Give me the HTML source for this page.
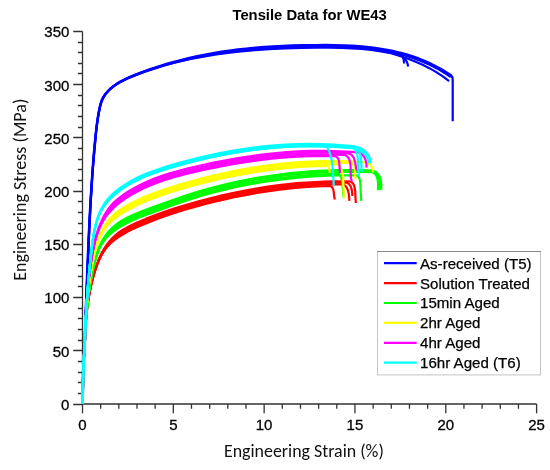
<!DOCTYPE html>
<html><head><meta charset="utf-8"><style>
html,body{margin:0;padding:0;background:#fff;}
svg{display:block;}
.c path{fill:none;stroke-linejoin:round;stroke-linecap:butt;}
.tk{font-family:"Liberation Sans",Arial,sans-serif;font-size:15px;fill:#000;stroke:#000;stroke-width:0.3px;}
.lg{font-family:"Liberation Sans",Arial,sans-serif;font-size:15.1px;fill:#000;stroke:#000;stroke-width:0.25px;}
.ti{font-family:"Liberation Sans",Arial,sans-serif;font-size:14.8px;font-weight:bold;fill:#000;}
.at{font-family:Carlito,"Liberation Sans",sans-serif;font-size:17.7px;fill:#111;}
</style></head><body>
<svg width="550" height="470" viewBox="0 0 550 470">
<rect width="550" height="470" fill="#fff"/>
<text x="309.6" y="19.6" text-anchor="middle" class="ti">Tensile Data for WE43</text>
<path d="M82.5,31.4V404H536.6M73.2,404.50H82.5M77.9,393.50H82.5M77.9,382.50H82.5M77.9,372.50H82.5M77.9,361.50H82.5M73.2,350.50H82.5M77.9,340.50H82.5M77.9,329.50H82.5M77.9,318.50H82.5M77.9,308.50H82.5M73.2,297.50H82.5M77.9,286.50H82.5M77.9,276.50H82.5M77.9,265.50H82.5M77.9,254.50H82.5M73.2,244.50H82.5M77.9,233.50H82.5M77.9,223.50H82.5M77.9,212.50H82.5M77.9,201.50H82.5M73.2,191.50H82.5M77.9,180.50H82.5M77.9,169.50H82.5M77.9,159.50H82.5M77.9,148.50H82.5M73.2,137.50H82.5M77.9,127.50H82.5M77.9,116.50H82.5M77.9,105.50H82.5M77.9,95.50H82.5M73.2,84.50H82.5M77.9,73.50H82.5M77.9,63.50H82.5M77.9,52.50H82.5M77.9,42.50H82.5M73.2,31.50H82.5M82.50,404V413.2M100.66,404V408.7M118.83,404V408.7M136.99,404V408.7M155.16,404V408.7M173.32,404V413.2M191.48,404V408.7M209.65,404V408.7M227.81,404V408.7M245.98,404V408.7M264.14,404V413.2M282.30,404V408.7M300.47,404V408.7M318.63,404V408.7M336.80,404V408.7M354.96,404V413.2M373.12,404V408.7M391.29,404V408.7M409.45,404V408.7M427.62,404V408.7M445.78,404V413.2M463.94,404V408.7M482.11,404V408.7M500.27,404V408.7M518.44,404V408.7M536.60,404V413.2" stroke="#333333" stroke-width="1.3" fill="none"/>
<g class="c">
<path d="M82.4,404.0 83.0,372.0 83.9,353.0 84.8,338.0 85.0,329.0 86.7,282.6 87.9,252.1 89.1,226.1 90.4,201.1 91.8,179.2 93.3,158.2 95.1,138.8 96.4,126.8 97.8,116.9 98.6,112.0 99.5,107.6 100.2,104.7 101.1,101.8 102.0,99.4 102.9,97.6 104.0,95.9 105.4,93.8 107.0,91.9 109.1,89.7 110.9,88.0 113.3,86.1 116.6,83.8 120.4,81.5 124.4,79.4 129.4,77.1 135.4,74.6 143.4,71.5 150.9,68.8 159.0,66.2 166.2,63.9 173.9,61.7 181.6,59.7 189.4,57.8 197.2,56.1 205.1,54.5 213.0,53.1 221.4,51.7 229.3,50.5 237.8,49.4 246.2,48.5 255.2,47.6 264.2,46.9 273.2,46.3 282.7,45.8 292.2,45.4 303.2,45.1 314.7,45.0 325.3,44.9 334.8,45.0 343.8,45.3 351.8,45.6 359.3,46.1 366.8,46.8 373.3,47.6 379.8,48.5 385.7,49.5 391.7,50.6 397.6,52.0 402.9,53.3 408.2,54.9 413.5,56.6 418.7,58.4 423.9,60.5 429.0,62.7 433.5,64.9 438.4,67.5 442.8,70.0 447.1,72.7 451.3,75.5 452.5,77.6 452.7,80.0 452.7,121.3" stroke="#0000ff" stroke-width="2.2"/>
<path d="M82.6,404.0 83.2,372.0 84.1,353.0 85.1,338.0 85.2,329.5 86.7,288.6 89.0,232.6 90.2,208.6 91.5,187.2 92.9,167.2 94.4,148.8 95.9,133.3 97.2,122.4 98.8,112.5 99.7,108.1 100.5,104.7 101.2,102.3 102.1,100.0 102.9,98.2 103.9,96.5 105.3,94.4 106.9,92.4 108.5,90.6 110.7,88.5 113.0,86.6 115.5,84.9 118.0,83.2 121.0,81.5 124.1,79.9 127.7,78.2 131.9,76.4 136.5,74.6 148.2,70.3 160.6,66.2 173.1,62.7 186.2,59.4 197.9,56.9 209.7,54.7 222.1,52.8 234.9,51.1 247.9,49.7 261.8,48.6 275.8,47.7 290.8,47.1 306.3,46.7 322.3,46.5 335.2,46.6 346.7,47.0 357.7,47.6 368.2,48.6 377.6,49.8 386.9,51.3 396.2,53.3 404.9,55.5 413.5,58.2 421.4,61.2 429.2,64.6 433.2,66.6 436.8,68.4 440.7,70.6 444.1,72.7 450.8,77.1" stroke="#0000ff" stroke-width="2.2"/>
<path d="M82.8,404.0 83.4,372.0 84.3,353.0 85.2,338.0 85.4,329.5 86.9,288.6 89.2,232.6 90.4,208.6 91.7,187.2 93.0,167.2 94.6,148.8 96.0,133.4 97.3,122.4 98.9,112.6 99.8,108.2 100.6,104.8 101.4,102.4 102.2,100.1 103.1,98.3 104.0,96.5 105.4,94.5 107.0,92.6 108.7,90.7 110.8,88.7 113.1,86.8 116.0,84.8 118.9,82.9 122.0,81.2 125.5,79.4 129.2,77.8 133.8,75.9 138.9,73.9 145.0,71.7 151.2,69.6 163.6,65.8 169.8,64.0 176.6,62.2 189.7,59.2 202.0,56.8 214.8,54.6 227.6,52.8 241.0,51.3 254.9,50.1 269.4,49.1 284.8,48.4 301.8,47.9 316.8,47.6 329.7,47.6 341.2,47.9 351.7,48.3 361.6,49.0 371.0,50.0 379.4,51.1 389.2,52.8 398.2,55.4 406.8,58.2 415.0,61.4 422.6,64.8 429.8,68.4 433.3,70.4 436.7,72.4 440.1,74.6 443.2,76.7 449.1,81.2" stroke="#0000ff" stroke-width="2.2"/>
<path d="M82.7,404.0 83.3,372.0 84.2,353.0 85.1,338.0 85.2,329.5 86.5,295.1 88.8,239.6 89.9,216.1 91.0,195.6 92.2,176.7 93.6,158.7 95.2,140.3 96.6,127.4 98.0,117.0 99.7,108.1 100.4,105.2 101.1,102.8 101.9,100.5 102.7,98.7 103.7,96.9 105.0,94.8 106.6,92.8 108.2,91.0 110.0,89.2 111.9,87.6 113.9,86.1 115.9,84.6 120.6,81.8 126.4,78.8 133.7,75.7 144.0,71.8 153.9,68.4 164.0,65.3 173.6,62.6 183.8,60.1 194.0,57.8 204.3,55.8 214.7,54.0 225.5,52.4 236.9,51.0 248.4,49.8 262.3,48.7 277.3,47.8 293.3,47.2 309.8,46.8 325.3,46.7 338.7,46.9 350.7,47.4 362.2,48.2 372.1,49.2 382.0,50.6 390.8,52.3 397.6,53.8 399.1,54.2 399.5,54.4 400.3,54.4 401.0,54.6 401.6,54.9 402.1,55.3 402.6,55.9 402.9,56.7 403.4,58.4 404.0,62.2 404.4,63.5" stroke="#0000ff" stroke-width="2.2"/>
<path d="M402.8,57.6 405.5,59.5 407.2,62.5 408.2,66.4" stroke="#0000ff" stroke-width="2.2"/>
<path d="M82.6,403.9 83.2,371.9 84.1,352.9 84.9,340.4 85.1,332.9 85.3,328.4 86.1,317.9 87.0,309.0 88.2,300.6 89.5,292.7 91.5,283.5 93.8,274.9 95.1,270.7 96.5,266.6 97.9,262.9 99.4,259.4 100.9,256.3 102.3,253.8 103.8,251.4 105.5,249.0 107.3,246.8 109.2,244.7 111.2,242.7 113.4,240.8 117.3,237.9 121.8,235.0 127.0,232.0 132.4,229.3 139.7,226.0 148.5,222.4 157.3,219.0 166.3,215.8 175.3,212.8 184.9,209.8 194.9,206.9 205.6,204.0 215.8,201.4 226.0,199.1 236.2,196.8 246.6,194.8 256.9,193.0 267.3,191.4 277.7,189.9 288.1,188.7 298.1,187.7 308.0,187.0 317.0,186.5 329.5,186.0 330.6,186.2 331.6,186.7 332.3,187.6 333.0,188.9 333.4,190.1 333.7,191.6 334.4,197.6 334.8,199.4" stroke="#ff0000" stroke-width="2.2"/>
<path d="M82.6,403.9 83.2,371.9 84.1,352.9 84.9,340.4 85.1,332.4 85.3,327.9 86.2,316.9 87.2,307.5 88.5,298.6 90.0,290.2 91.0,285.4 92.2,280.5 93.5,275.7 94.8,271.4 96.2,267.2 97.7,263.0 99.2,259.4 100.7,256.2 102.3,253.2 103.8,250.6 105.5,248.2 107.3,245.8 109.2,243.6 111.2,241.5 113.4,239.5 116.1,237.3 120.2,234.5 125.3,231.4 130.6,228.6 137.4,225.4 146.6,221.5 155.9,217.9 165.8,214.3 176.3,210.9 186.8,207.6 197.4,204.6 208.5,201.7 219.6,198.9 230.4,196.5 241.1,194.3 252.0,192.2 262.8,190.4 272.7,189.0 282.6,187.7 292.6,186.6 302.5,185.8 312.0,185.1 321.5,184.7 330.5,184.4 340.5,184.4 341.0,184.2 342.0,184.3 342.8,184.5 343.7,184.7 345.0,185.6 346.3,187.0 347.3,188.8 348.1,190.9 348.7,193.6 349.1,196.6 349.4,200.9" stroke="#ff0000" stroke-width="2.2"/>
<path d="M82.6,403.9 83.2,371.9 84.1,352.9 84.9,340.4 85.1,332.4 85.3,327.9 86.3,316.4 87.3,307.0 88.6,298.1 90.2,289.2 91.3,284.3 92.4,279.4 93.8,274.6 95.1,270.2 96.5,265.9 98.1,261.7 99.6,258.0 101.1,254.7 102.8,251.6 104.4,249.0 106.3,246.1 108.2,243.6 110.2,241.3 112.3,239.2 114.6,237.1 117.3,234.9 121.4,232.0 125.7,229.4 131.0,226.7 137.9,223.5 146.6,219.8 155.9,216.2 165.3,212.8 175.3,209.5 184.9,206.5 194.9,203.6 205.6,200.7 216.2,198.0 227.0,195.5 237.2,193.3 247.5,191.3 257.9,189.5 269.2,187.8 280.2,186.3 291.1,185.1 302.0,184.1 313.0,183.4 323.5,182.9 333.5,182.7 344.4,182.7 345.9,182.6 347.4,183.0 348.6,183.6 349.7,184.7 350.6,186.2 351.3,188.1 351.9,190.4 352.2,193.0 352.4,196.0" stroke="#ff0000" stroke-width="2.2"/>
<path d="M82.6,403.9 83.2,371.9 84.1,352.9 84.9,340.4 85.1,332.4 85.4,327.4 86.3,315.9 87.4,306.0 88.8,296.6 90.5,287.7 91.6,282.8 92.8,277.9 94.2,273.0 95.7,268.1 97.2,263.8 98.8,259.5 100.5,255.7 102.1,252.4 103.8,249.3 105.5,246.6 107.6,243.7 109.5,241.2 112.0,238.5 114.2,236.4 116.5,234.3 118.9,232.4 121.0,231.0 123.5,229.4 129.3,226.2 136.5,222.8 145.7,218.9 155.5,215.1 165.8,211.3 176.3,207.9 187.3,204.5 198.8,201.2 210.4,198.2 222.1,195.3 233.8,192.8 245.1,190.5 256.4,188.5 267.8,186.7 279.2,185.1 288.1,184.1 297.1,183.2 306.0,182.5 315.0,182.0 324.0,181.6 332.5,181.4 344.5,181.4 346.5,181.4 346.8,181.6 348.8,181.3 350.0,181.5 350.7,181.7 351.5,182.1 352.1,182.6 352.7,183.2 353.7,184.7 354.4,186.7 354.9,188.8 355.2,191.4 355.6,200.0 355.9,203.0" stroke="#ff0000" stroke-width="2.2"/>
<path d="M82.6,404.0 83.2,371.9 84.1,353.0 84.9,339.5 85.1,332.5 85.4,327.5 86.4,314.0 87.5,302.6 88.9,291.7 90.6,281.3 92.7,270.6 95.0,260.9 96.1,257.1 97.1,253.8 98.3,250.5 99.5,247.8 100.8,245.2 102.2,242.6 103.5,240.5 105.3,238.2 107.1,235.9 109.2,233.8 111.3,231.8 113.6,229.9 116.0,228.1 118.4,226.4 123.5,223.3 129.3,220.3 136.2,217.2 145.5,213.5 165.7,206.1 179.4,201.3 191.2,197.4 201.3,194.3 210.9,191.6 221.1,188.9 231.3,186.5 241.6,184.3 251.9,182.3 262.2,180.6 273.1,178.9 288.5,177.0 304.0,175.5 312.9,174.9 321.9,174.4 333.4,173.9 336.4,173.8 336.9,173.9 337.9,173.6 338.5,173.6 338.9,173.9 339.4,174.5 340.6,176.4 341.4,178.5 342.0,180.8 342.6,184.9 343.3,194.2 343.8,198.0" stroke="#00ff00" stroke-width="2.2"/>
<path d="M82.6,404.0 83.2,371.9 84.1,353.0 84.9,339.5 85.1,332.5 85.4,327.5 86.4,313.5 87.6,302.1 89.1,290.7 90.8,279.9 92.9,269.8 95.3,260.2 96.2,257.0 97.3,253.7 98.5,250.6 99.7,247.9 101.0,245.4 102.4,242.9 103.8,241.0 105.6,238.7 107.5,236.6 109.5,234.7 111.7,232.8 114.4,230.7 120.1,226.9 125.3,223.9 131.1,221.0 138.0,218.0 148.8,213.9 171.3,205.7 184.6,201.2 197.0,197.2 207.0,194.2 217.7,191.4 227.9,188.9 238.6,186.5 249.4,184.4 260.3,182.5 271.1,180.8 282.6,179.3 291.5,178.3 300.5,177.4 309.4,176.7 318.9,176.1 327.9,175.7 337.4,175.4 345.9,175.3 354.4,175.3 354.9,175.1 356.3,175.3 357.6,175.9 358.2,176.4 358.6,177.0 359.4,178.3 359.9,180.2 360.2,182.0 360.4,184.6 360.9,196.3 361.4,200.9" stroke="#00ff00" stroke-width="2.2"/>
<path d="M82.6,404.0 83.2,371.9 84.1,353.0 84.9,340.0 85.1,332.0 85.4,326.5 86.6,312.0 87.9,299.6 89.6,287.1 91.6,275.7 93.9,264.7 95.1,259.8 96.2,255.8 97.3,252.4 98.5,249.0 99.9,245.6 101.2,242.8 102.7,240.0 104.4,237.3 106.2,234.7 108.1,232.2 110.6,229.5 112.8,227.3 115.2,225.3 117.6,223.4 119.7,222.0 122.2,220.4 127.5,217.5 133.4,214.8 140.3,211.9 156.7,205.8 173.7,199.7 186.5,195.3 198.4,191.6 208.0,188.8 217.7,186.2 227.4,183.8 237.6,181.5 247.9,179.5 258.3,177.6 268.7,176.0 279.1,174.5 290.5,173.2 302.0,172.1 313.4,171.2 324.9,170.6 335.9,170.2 347.4,170.1 361.9,170.2 367.9,170.4 368.2,170.5 370.0,170.3 371.7,170.4 372.8,170.7 373.8,171.1 374.7,171.5 375.6,172.2 376.3,173.0 377.1,174.0 377.7,175.1 378.3,176.2 379.2,179.0 379.7,182.3 379.9,186.1 379.7,190.0" stroke="#00ff00" stroke-width="2.2"/>
<path d="M82.6,404.0 83.2,371.9 84.1,353.0 84.9,340.0 85.1,332.0 85.4,326.5 86.6,312.0 87.9,299.6 89.5,287.7 91.5,276.3 93.8,265.5 95.0,260.6 96.1,256.7 97.1,253.3 98.3,249.9 99.7,246.7 101.0,243.9 102.4,241.2 104.1,238.6 105.9,236.1 107.8,233.8 109.9,231.5 112.1,229.4 114.4,227.4 117.2,225.3 121.4,222.5 126.6,219.6 132.5,216.8 139.4,213.9 152.5,208.9 171.8,201.9 184.6,197.6 196.5,193.7 206.1,190.9 215.7,188.3 225.4,185.9 235.2,183.6 245.0,181.6 255.3,179.7 265.2,178.1 275.6,176.6 287.0,175.2 299.0,174.0 310.4,173.1 322.4,172.3 333.9,171.9 345.4,171.7 360.9,171.8 366.9,171.9 367.2,172.1 369.3,171.9 371.0,171.9 372.0,172.2 372.9,172.5 373.8,172.9 374.6,173.5 375.3,174.2 375.9,175.1 376.4,176.0 376.9,177.1 377.6,179.6 378.0,182.6 378.1,186.1 377.9,190.3" stroke="#00ff00" stroke-width="2.2"/>
<path d="M82.6,404.0 83.2,371.9 84.1,353.0 84.9,340.0 85.1,332.0 85.4,326.5 86.6,312.0 87.9,299.6 89.6,287.1 91.6,275.7 93.9,264.9 95.1,259.9 96.2,256.0 97.3,252.6 98.5,249.2 99.9,245.9 101.2,243.1 102.7,240.4 104.4,237.8 106.2,235.2 108.1,232.8 110.2,230.5 112.5,228.4 114.8,226.3 117.6,224.2 119.7,222.8 122.2,221.2 127.5,218.3 133.4,215.6 140.3,212.7 156.3,206.8 173.2,200.7 186.0,196.3 197.9,192.5 207.5,189.7 217.2,187.1 226.9,184.7 236.7,182.5 246.5,180.5 256.8,178.7 267.2,177.0 277.6,175.5 289.0,174.2 300.5,173.0 311.9,172.1 323.4,171.5 334.4,171.1 345.4,170.9 353.9,170.9 362.4,171.0 367.9,171.2 368.2,171.4 370.8,171.0 372.7,171.1 373.7,171.3 374.8,171.7 375.8,172.2 376.7,172.9 377.5,173.6 378.2,174.5 378.9,175.6 379.6,176.7 380.1,178.1 380.6,179.5 381.2,182.7 381.4,186.2 381.2,189.8" stroke="#00ff00" stroke-width="2.2"/>
<path d="M82.6,404.0 83.2,372.0 84.1,353.1 84.9,340.1 85.2,330.1 85.7,320.1 86.5,308.1 87.5,296.7 88.7,286.3 90.2,275.9 92.0,265.2 94.0,255.6 96.0,248.0 97.0,244.8 98.1,241.6 99.4,238.5 100.6,235.9 102.1,232.9 103.6,230.5 105.2,228.1 106.9,225.9 108.5,224.1 110.5,222.1 114.2,219.0 118.6,215.7 122.3,213.2 126.6,210.6 131.8,207.7 137.7,204.8 143.6,202.2 150.1,199.5 157.1,196.9 164.7,194.2 173.2,191.5 183.3,188.5 192.9,185.7 202.6,183.1 212.3,180.7 221.5,178.5 232.8,176.1 243.6,174.1 254.4,172.2 265.3,170.6 276.2,169.2 286.6,168.1 297.1,167.2 307.6,166.5 319.6,166.1 324.6,166.0 325.0,166.1 326.1,165.8 327.0,165.9 327.6,166.2 328.1,166.6 328.5,167.2 328.9,168.0 329.4,170.0 329.8,173.0" stroke="#ffff00" stroke-width="2.2"/>
<path d="M82.6,404.0 83.2,372.0 84.1,353.1 84.9,340.6 85.2,329.6 85.9,316.1 86.9,303.1 88.1,291.2 89.6,279.8 91.4,268.5 93.4,257.7 95.4,249.5 96.5,245.7 97.8,242.0 99.0,238.8 100.3,235.6 101.9,232.5 103.3,230.0 104.9,227.5 106.6,225.1 108.5,222.9 110.5,220.7 112.7,218.7 115.4,216.5 118.1,214.4 121.0,212.4 124.4,210.3 127.9,208.2 131.8,206.1 135.9,204.1 139.9,202.2 144.5,200.2 153.3,196.6 163.2,193.1 175.1,189.3 188.6,185.3 202.1,181.6 215.7,178.3 228.8,175.3 242.1,172.7 255.4,170.4 268.3,168.6 281.2,167.0 293.6,165.8 304.6,165.1 315.6,164.6 327.6,164.3 336.1,164.3 336.6,164.4 338.0,164.2 338.5,164.3 339.0,164.8 339.8,166.2 341.1,168.7 342.0,171.4 342.7,174.4 343.0,177.1 343.3,180.3 343.6,193.2 343.8,195.7 344.1,198.0" stroke="#ffff00" stroke-width="2.2"/>
<path d="M82.6,404.0 83.2,372.0 84.1,353.1 84.9,340.6 85.2,329.6 85.9,316.6 86.9,303.6 88.1,291.7 89.5,280.2 91.3,268.8 93.3,258.0 94.3,253.6 95.4,249.2 96.5,245.3 97.8,241.4 99.0,238.1 100.3,234.8 101.9,231.6 103.3,229.0 105.2,225.9 106.9,223.4 108.8,221.1 110.9,218.8 113.1,216.7 115.4,214.7 119.8,211.4 124.8,208.2 130.9,204.8 137.2,201.6 144.0,198.6 151.5,195.6 159.4,192.6 168.0,189.8 179.4,186.2 191.4,182.7 203.0,179.6 214.7,176.7 226.4,174.1 237.7,171.8 249.0,169.7 260.3,167.9 271.7,166.3 283.2,165.0 294.6,164.0 305.6,163.2 316.6,162.7 327.6,162.5 337.6,162.6 350.1,162.9 351.5,163.2 352.6,164.0 353.5,165.0 354.2,166.5 354.6,168.0 354.9,169.7 355.2,176.7 355.6,179.0" stroke="#ffff00" stroke-width="2.2"/>
<path d="M82.6,404.0 83.2,372.0 84.1,353.1 84.9,340.6 85.2,329.1 86.0,315.6 87.0,302.6 88.2,290.2 89.7,278.7 91.5,267.2 93.7,256.3 95.7,247.9 96.8,243.9 98.1,240.0 99.4,236.6 100.8,233.3 102.3,230.0 103.8,227.2 105.8,224.1 107.6,221.5 109.5,219.0 111.6,216.7 113.8,214.6 116.1,212.6 120.2,209.6 125.3,206.4 131.4,203.0 137.7,199.9 144.0,197.1 151.0,194.2 158.5,191.5 167.0,188.6 178.0,185.1 189.5,181.8 201.1,178.6 212.3,175.8 223.5,173.2 234.2,170.9 245.5,168.8 256.4,167.0 269.8,165.1 283.2,163.5 296.1,162.3 309.1,161.5 322.1,161.1 334.6,161.0 342.1,161.2 349.6,161.4 358.6,161.9 359.1,162.1 360.6,162.0 362.1,162.0 364.7,162.3 367.0,163.0 369.0,164.0 370.6,165.2 371.7,166.6 372.1,167.5 372.5,168.4 372.8,170.2 372.6,172.3" stroke="#ffff00" stroke-width="2.2"/>
<path d="M82.6,404.0 83.2,372.0 84.1,353.0 84.9,339.5 85.3,328.6 86.3,308.6 87.4,294.1 88.7,280.7 90.2,267.9 92.0,256.2 93.7,247.0 94.7,242.7 95.7,239.0 96.9,235.3 98.0,232.1 99.2,229.0 100.5,225.9 102.0,223.0 103.4,220.5 105.2,217.7 106.8,215.4 108.6,213.2 110.9,210.7 113.3,208.2 115.8,205.8 120.4,202.0 125.3,198.5 130.8,195.1 136.9,191.7 143.2,188.5 149.6,185.7 156.6,183.0 164.1,180.3 172.2,177.8 180.9,175.4 190.6,173.0 202.3,170.3 215.0,167.6 227.3,165.2 239.1,163.2 250.5,161.4 261.4,159.9 271.8,158.7 282.3,157.7 292.8,156.9 302.7,156.4 312.7,156.1 321.7,156.0 333.2,156.2 333.7,156.1 334.5,156.1 335.9,156.5 337.0,157.2 337.9,158.3 338.6,159.8 339.0,161.2 339.2,162.8 339.8,170.3 340.1,171.8 340.4,173.0" stroke="#ff00ff" stroke-width="2.2"/>
<path d="M82.6,404.0 83.2,372.0 84.1,353.0 84.9,339.5 85.3,328.1 86.4,307.6 87.5,293.1 88.8,279.2 90.5,265.9 92.3,254.1 94.2,244.8 95.2,240.5 96.3,236.7 97.5,232.9 98.8,229.2 100.1,226.0 101.6,222.9 103.2,219.9 104.9,216.9 106.8,214.1 108.6,211.8 110.5,209.5 112.9,207.0 115.4,204.6 118.1,202.3 120.4,200.4 123.3,198.4 129.1,194.5 135.6,190.8 142.7,187.2 150.1,183.9 157.5,181.0 165.6,178.2 174.6,175.5 185.8,172.5 198.4,169.6 214.1,166.2 228.8,163.4 242.1,161.1 255.0,159.2 267.9,157.5 280.3,156.3 288.8,155.6 296.7,155.1 304.7,154.7 312.7,154.5 320.7,154.4 328.2,154.5 335.7,154.7 343.2,155.0 343.9,154.8 345.0,155.0 345.9,155.5 346.7,156.0 347.5,156.7 348.1,157.4 349.2,159.2 349.9,161.3 350.3,163.4 350.6,166.0 350.7,174.4 350.9,177.2 351.3,179.5 351.9,181.5" stroke="#ff00ff" stroke-width="2.2"/>
<path d="M82.6,404.0 83.2,372.0 84.1,353.0 84.9,339.5 85.3,328.1 86.4,307.6 87.5,293.1 88.8,279.2 90.4,266.2 92.2,254.3 93.1,249.4 94.2,244.5 95.2,240.0 96.3,236.1 97.5,232.3 98.8,228.5 100.1,225.2 101.6,221.9 103.2,218.7 104.9,215.6 106.8,212.6 108.6,210.2 110.5,207.8 112.6,205.6 114.7,203.5 117.3,201.1 122.0,197.4 127.4,193.8 133.4,190.2 139.6,186.9 145.9,183.9 152.8,181.0 160.3,178.2 167.9,175.7 177.1,173.0 186.7,170.5 198.4,167.8 212.1,164.8 224.4,162.4 236.7,160.2 248.5,158.3 260.4,156.6 271.8,155.3 283.3,154.2 294.3,153.4 305.2,152.9 315.7,152.6 326.2,152.6 336.2,152.9 348.2,153.4 349.9,153.9 351.4,154.8 352.6,156.1 353.7,157.7 354.4,159.6 355.0,161.8 356.6,170.5" stroke="#ff00ff" stroke-width="2.2"/>
<path d="M82.6,404.0 83.2,372.0 84.1,353.0 84.9,339.5 85.3,328.1 86.4,307.6 87.5,293.1 88.8,279.1 90.5,265.6 92.3,253.6 93.2,248.6 94.3,243.6 95.3,239.1 96.4,235.1 97.6,231.2 99.0,227.2 100.3,223.8 101.8,220.4 103.4,217.1 105.2,213.9 107.1,210.8 108.9,208.2 110.9,205.7 112.9,203.4 115.1,201.3 117.7,199.0 122.5,195.3 127.8,191.7 133.9,188.1 140.0,184.9 146.8,181.7 153.8,178.8 161.3,176.1 168.9,173.6 178.0,171.0 188.2,168.3 200.4,165.5 213.6,162.7 225.8,160.3 238.2,158.1 250.0,156.3 261.4,154.7 273.8,153.3 286.3,152.2 298.2,151.4 310.2,150.9 321.7,150.8 333.2,151.0 346.7,151.6 354.7,152.2 355.1,152.3 356.3,152.2 357.5,152.3 358.5,152.5 359.5,152.8 360.4,153.2 361.3,153.7 362.8,155.1 364.2,157.0 365.3,159.3 366.1,162.0 366.5,164.8 366.4,167.6" stroke="#ff00ff" stroke-width="2.2"/>
<path d="M82.6,404.0 83.2,372.0 84.1,353.1 84.9,340.1 85.2,327.6 86.4,307.6 87.7,288.7 89.3,270.8 91.2,252.9 92.9,239.1 94.3,231.3 95.2,227.5 96.0,224.1 97.0,220.8 97.9,218.0 99.0,215.3 100.2,212.6 101.5,210.1 102.8,208.0 104.1,205.9 105.9,203.6 107.8,201.4 109.8,199.2 112.3,196.8 114.5,194.8 117.2,192.5 120.4,190.1 123.3,188.1 126.6,185.9 130.1,183.9 134.0,181.7 137.6,179.9 141.7,178.0 150.0,174.6 159.4,171.2 169.9,167.9 183.4,164.1 197.4,160.5 211.1,157.3 224.8,154.5 238.6,152.1 251.9,150.2 265.4,148.6 278.8,147.4 291.8,146.6 299.8,146.4 307.8,146.3 318.3,146.3 324.3,146.5 325.2,146.6 326.2,146.4 326.4,146.4 326.8,146.5 327.2,147.1 328.2,148.9 329.6,152.3 330.7,155.9 331.6,160.0 332.2,163.6 332.6,167.8 333.5,181.1 333.8,185.4" stroke="#00ffff" stroke-width="2.2"/>
<path d="M82.6,404.0 83.2,372.0 84.1,353.1 84.9,340.1 85.2,327.6 86.4,306.6 87.8,287.2 89.4,269.3 91.4,250.9 92.3,243.5 93.2,237.6 94.6,229.8 95.5,226.0 96.4,222.6 97.4,219.3 98.4,216.6 99.6,213.9 100.8,211.2 102.3,208.7 103.6,206.6 105.0,204.6 106.8,202.3 108.8,200.1 111.2,197.6 113.4,195.6 116.0,193.3 118.8,191.1 121.6,189.0 127.5,185.2 134.0,181.5 141.2,178.1 149.1,174.8 157.5,171.7 167.0,168.6 178.1,165.4 191.1,161.9 204.2,158.7 217.4,155.8 230.2,153.3 243.0,151.2 255.4,149.5 267.8,148.1 280.3,147.1 289.8,146.5 298.8,146.2 307.8,146.1 316.8,146.1 325.8,146.4 334.3,146.8 342.8,147.4 351.2,148.2 351.8,148.0 352.9,148.3 353.7,148.7 354.4,149.2 355.0,149.8 355.7,150.5 356.5,152.2 357.2,154.4 357.5,156.1 357.8,158.5 358.6,171.1 359.0,176.5" stroke="#00ffff" stroke-width="2.2"/>
<path d="M82.6,404.0 83.2,372.0 84.1,353.1 84.9,340.1 85.2,327.6 86.4,307.1 87.7,288.2 89.3,270.2 91.3,251.8 92.3,243.9 93.1,237.9 94.6,229.6 95.5,225.7 96.4,222.3 97.4,218.9 98.4,216.1 99.6,213.3 100.8,210.6 102.3,208.0 103.6,205.8 105.0,203.8 106.8,201.4 108.8,199.1 110.8,197.0 113.0,194.9 115.7,192.6 120.8,188.6 126.6,184.7 132.7,181.2 139.4,177.9 146.3,174.9 154.2,171.8 162.7,169.0 172.8,165.9 185.8,162.3 198.9,159.0 212.0,155.9 224.8,153.3 237.6,151.1 250.0,149.2 262.4,147.7 274.3,146.5 284.3,145.8 294.3,145.3 304.3,145.1 314.3,145.1 323.8,145.3 333.3,145.7 343.8,146.5 354.2,147.5 355.4,147.4 355.8,147.5 356.4,147.8 356.9,148.3 357.7,149.2 358.4,150.2 359.5,152.3 360.3,154.9 360.8,157.2 361.1,159.8 361.6,168.9 361.9,172.1" stroke="#00ffff" stroke-width="2.2"/>
<path d="M82.6,404.0 83.2,372.0 84.1,353.1 84.9,340.1 85.2,327.6 86.4,306.6 87.8,287.1 89.4,269.2 91.4,250.7 92.3,243.2 93.2,237.2 94.7,228.8 95.6,224.8 96.5,221.4 97.6,218.0 98.6,215.1 99.8,212.2 101.1,209.4 102.5,206.7 103.8,204.5 105.3,202.4 107.1,199.9 108.8,198.0 110.8,195.8 113.0,193.7 115.7,191.4 120.4,187.7 125.8,184.1 131.4,180.8 137.1,177.8 143.5,174.8 150.5,172.0 158.5,169.2 167.0,166.4 179.0,162.9 191.6,159.6 203.8,156.6 216.0,153.9 227.7,151.6 239.6,149.6 251.4,147.8 262.9,146.4 274.3,145.3 285.3,144.6 296.8,144.1 307.8,143.9 318.8,144.0 329.8,144.3 339.8,145.0 346.7,145.5 347.3,145.7 350.0,145.8 352.8,146.1 354.8,146.5 356.7,147.0 358.7,147.6 360.4,148.3 362.0,149.1 363.5,150.1 365.0,151.2 366.1,152.2 367.2,153.4 368.2,154.7 369.0,156.1 369.5,157.4 370.0,158.8 370.3,160.3 370.4,161.9 370.4,163.6" stroke="#00ffff" stroke-width="2.2"/>
<path d="M82.6,404.0 83.2,372.0 84.1,353.1 84.9,340.1 85.2,327.6 86.4,307.1 87.7,288.2 89.3,270.2 91.3,251.9 92.3,244.0 93.1,238.0 94.5,230.2 95.4,226.3 96.3,223.0 97.3,219.7 98.3,216.9 99.4,214.1 100.6,211.4 102.0,208.8 103.3,206.7 104.7,204.7 106.5,202.3 108.4,200.1 110.5,197.9 112.6,195.8 115.3,193.5 120.0,189.8 124.9,186.4 130.5,183.0 136.2,180.0 142.6,177.0 149.1,174.4 156.6,171.6 164.6,169.0 175.7,165.7 188.2,162.2 200.3,159.2 212.0,156.5 223.8,154.1 235.1,152.1 246.5,150.3 257.9,148.8 269.8,147.5 281.3,146.6 293.3,146.0 304.8,145.7 315.8,145.7 326.8,146.0 339.8,146.8 346.7,147.3 347.3,147.5 349.6,147.5 351.8,147.7 355.1,148.3 356.8,148.9 358.4,149.5 359.8,150.2 361.2,151.0 362.5,151.9 363.8,152.9 364.8,153.9 365.7,155.0 366.5,156.2 367.2,157.5 367.8,158.8 368.2,160.1 368.4,161.7 368.6,163.1" stroke="#00ffff" stroke-width="2.2"/>
</g>
<text x="69.4" y="409.90" text-anchor="end" class="tk">0</text><text x="69.4" y="356.67" text-anchor="end" class="tk">50</text><text x="69.4" y="303.44" text-anchor="end" class="tk">100</text><text x="69.4" y="250.21" text-anchor="end" class="tk">150</text><text x="69.4" y="196.99" text-anchor="end" class="tk">200</text><text x="69.4" y="143.76" text-anchor="end" class="tk">250</text><text x="69.4" y="90.53" text-anchor="end" class="tk">300</text><text x="69.4" y="37.30" text-anchor="end" class="tk">350</text><text x="82.50" y="430.2" text-anchor="middle" class="tk">0</text><text x="173.32" y="430.2" text-anchor="middle" class="tk">5</text><text x="264.14" y="430.2" text-anchor="middle" class="tk">10</text><text x="354.96" y="430.2" text-anchor="middle" class="tk">15</text><text x="445.78" y="430.2" text-anchor="middle" class="tk">20</text><text x="536.60" y="430.2" text-anchor="middle" class="tk">25</text>
<text x="303.9" y="456.8" text-anchor="middle" class="at" style="font-size:17.9px" textLength="159.9" lengthAdjust="spacingAndGlyphs">Engineering Strain (%)</text>
<text transform="translate(25.6,189.7) rotate(-90)" text-anchor="middle" class="at" style="font-size:18.05px" textLength="182.2" lengthAdjust="spacingAndGlyphs">Engineering Stress (MPa)</text>
<rect x="377.5" y="251.5" width="163" height="123.4" fill="#fff" stroke="#c4c4c4" stroke-width="1"/><path d="M377,251.5H541" stroke="#8a8a8a" stroke-width="1.2"/><path d="M384,263.2H416.7" stroke="#0000ff" stroke-width="2.2"/><text x="420" y="268.6" class="lg">As-received (T5)</text><path d="M384,283.1H416.7" stroke="#ff0000" stroke-width="2.2"/><text x="420" y="288.5" class="lg">Solution Treated</text><path d="M384,303.0H416.7" stroke="#00ff00" stroke-width="2.2"/><text x="420" y="308.4" class="lg">15min Aged</text><path d="M384,322.9H416.7" stroke="#ffff00" stroke-width="2.2"/><text x="420" y="328.3" class="lg">2hr Aged</text><path d="M384,342.8H416.7" stroke="#ff00ff" stroke-width="2.2"/><text x="420" y="348.2" class="lg">4hr Aged</text><path d="M384,362.7H416.7" stroke="#00ffff" stroke-width="2.2"/><text x="420" y="368.1" class="lg">16hr Aged (T6)</text>
</svg>
</body></html>
